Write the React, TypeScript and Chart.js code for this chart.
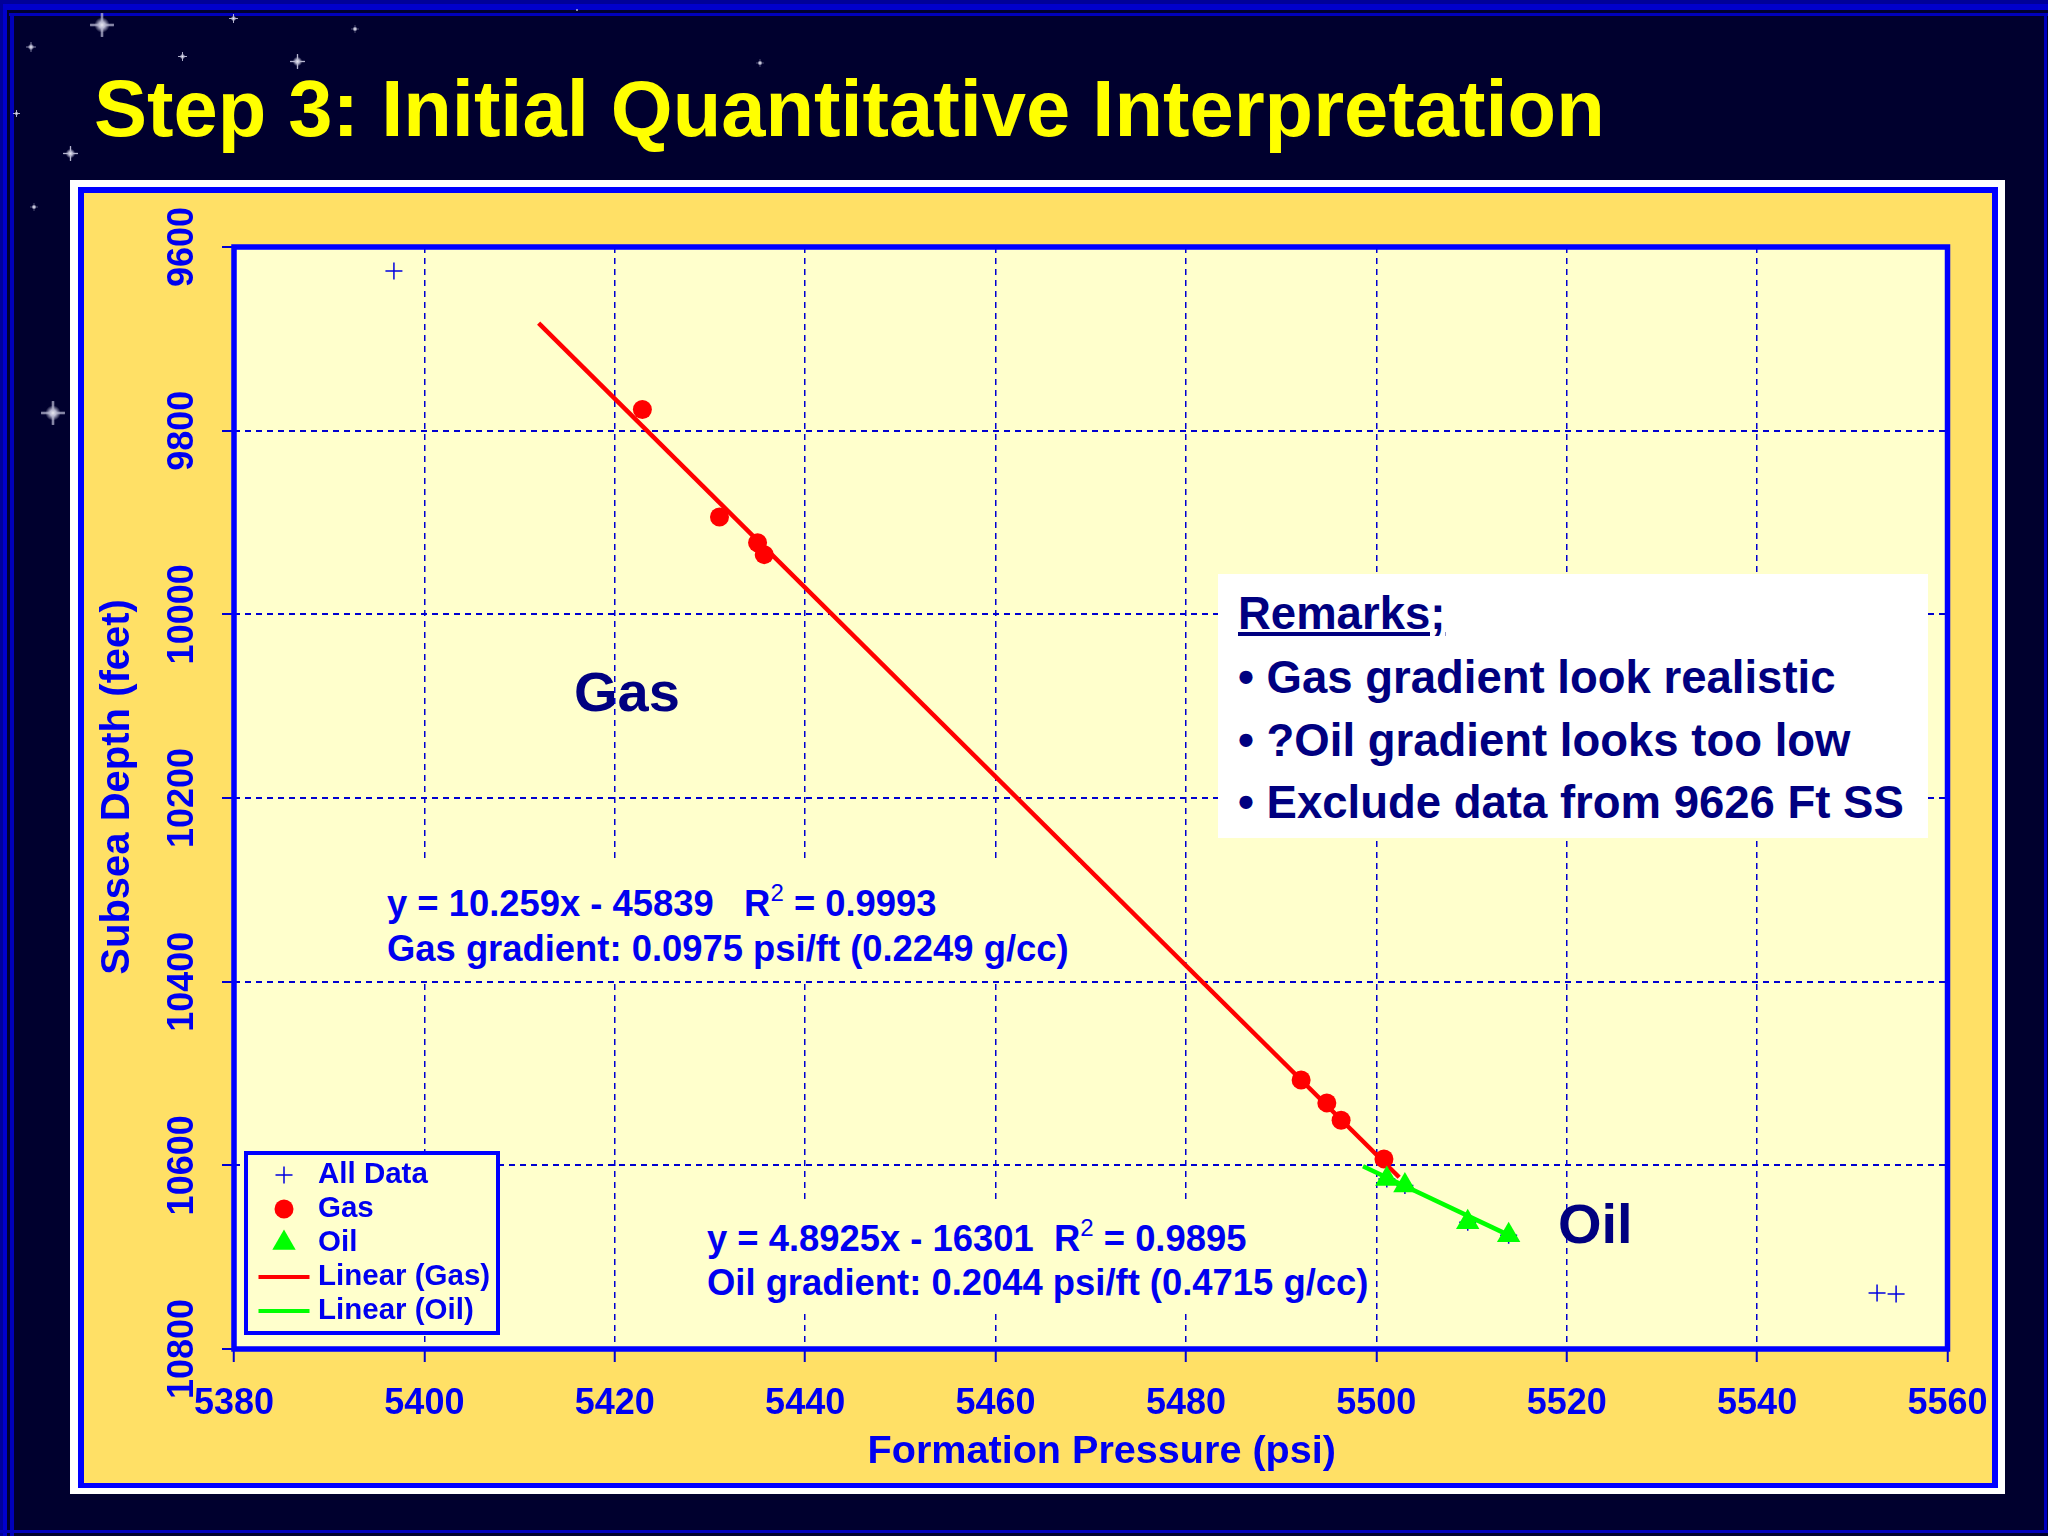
import { useEffect, useRef } from "react";
import { Chart, registerables } from "chart.js";
import { drawPoint } from "chart.js/helpers";

Chart.register(...registerables);

// values
const GAS_X = [5422.9, 5431.0, 5435.0, 5435.7, 5492.1, 5494.8, 5496.3, 5500.8];
const GAS_Y = [9777, 9894, 9922, 9935, 10507, 10532, 10551, 10593];
const OIL_X = [5501.1, 5503.0, 5509.6, 5513.9];
const OIL_Y = [10615, 10622, 10662, 10676];
const OUTLIER_X = [5396.8, 5552.6, 5554.6];
const OUTLIER_Y = [9626, 10739, 10740];
const GAS_FIT_X = [5412, 5502.4];
const GAS_FIT_Y = [9683, 10613];
const OIL_FIT_X = [5498.6, 5513.9];
const OIL_FIT_Y = [10601, 10676];

const ALL_X = [...OUTLIER_X, ...GAS_X, ...OIL_X];
const ALL_Y = [...OUTLIER_Y, ...GAS_Y, ...OIL_Y];

const BLUE = "#0000F0";
const NAVY = "#000080";
const CREAM = "#FFFFCC";
const FONT = '"Liberation Sans", Arial, sans-serif';

const points = (xs: number[], ys: number[]) => xs.map((x, i) => ({ x, y: ys[i] }));

const plotFrame = {
  id: "plotFrame",
  beforeDraw(chart: Chart) {
    const { ctx, chartArea: a } = chart;
    ctx.save();
    ctx.fillStyle = CREAM;
    ctx.fillRect(a.left, a.top, a.width, a.height);
    ctx.restore();
  },
  afterDraw(chart: Chart) {
    const { ctx, chartArea: a } = chart;
    ctx.save();
    ctx.strokeStyle = "#0000FF";
    ctx.lineWidth = 5.5;
    ctx.strokeRect(a.left, a.top, a.width, a.height);
    ctx.restore();
  }
};

// legend sits inside the plot in a bordered box, so it is drawn by hand from the datasets
const boxLegend = {
  id: "boxLegend",
  afterDraw(chart: Chart) {
    const { ctx } = chart;
    ctx.save();
    ctx.fillStyle = CREAM;
    ctx.strokeStyle = "#0000FF";
    ctx.lineWidth = 4;
    ctx.fillRect(246, 1153, 252, 180);
    ctx.strokeRect(246, 1153, 252, 180);
    ctx.font = `bold 29.5px ${FONT}`;
    ctx.textBaseline = "middle";
    chart.data.datasets.forEach((d: any, i: number) => {
      const y = 1175 + i * 34;
      ctx.fillStyle = d.pointBackgroundColor || d.borderColor;
      ctx.strokeStyle = d.pointBorderColor || d.borderColor;
      ctx.lineWidth = d.legendWidth;
      drawPoint(ctx, { pointStyle: d.legendStyle, radius: d.legendRadius, rotation: 0, borderWidth: d.legendWidth }, 284, y);
      ctx.fillStyle = BLUE;
      ctx.fillText(d.label, 318, y);
    });
    ctx.restore();
  }
};

function DepthChart() {
  const canvasRef = useRef<HTMLCanvasElement | null>(null);

  useEffect(() => {
    if (!canvasRef.current) return;
    const chart = new Chart(canvasRef.current, {
      type: "scatter",
      data: {
        datasets: [
          {
            label: "All Data",
            data: points(ALL_X, ALL_Y),
            showLine: false,
            pointStyle: "cross",
            pointRadius: 8.5,
            pointBorderColor: "#0000E0",
            pointBorderWidth: 1.5,
            order: 5,
            legendStyle: "cross",
            legendRadius: 8.5,
            legendWidth: 1.5
          },
          {
            label: "Gas",
            data: points(GAS_X, GAS_Y),
            showLine: false,
            pointStyle: "circle",
            pointRadius: 9.5,
            pointBackgroundColor: "#FF0000",
            pointBorderWidth: 0,
            order: 2,
            borderColor: "#FF0000",
            legendStyle: "circle",
            legendRadius: 9.5,
            legendWidth: 0
          },
          {
            label: "Oil",
            data: points(OIL_X, OIL_Y),
            showLine: false,
            pointStyle: "triangle",
            pointRadius: 13.5,
            pointBackgroundColor: "#00FF00",
            pointBorderWidth: 0,
            order: 1,
            borderColor: "#00FF00",
            legendStyle: "triangle",
            legendRadius: 13.5,
            legendWidth: 0
          },
          {
            label: "Linear (Gas)",
            data: points(GAS_FIT_X, GAS_FIT_Y),
            showLine: true,
            pointRadius: 0,
            borderColor: "#FF0000",
            borderWidth: 4.5,
            order: 4,
            legendStyle: "line",
            legendRadius: 25.5,
            legendWidth: 4
          },
          {
            label: "Linear (Oil)",
            data: points(OIL_FIT_X, OIL_FIT_Y),
            showLine: true,
            pointRadius: 0,
            borderColor: "#00FF00",
            borderWidth: 4.5,
            order: 3,
            legendStyle: "line",
            legendRadius: 25.5,
            legendWidth: 4
          }
        ] as any
      },
      options: {
        responsive: false,
        animation: false,
        devicePixelRatio: 1,
        layout: { padding: { left: 90, top: 247, right: 100.5, bottom: 60 } },
        plugins: { legend: { display: false }, tooltip: { enabled: false } },
        scales: {
          x: {
            type: "linear",
            min: 5380,
            max: 5560,
            afterFit: (s: any) => { s.height = 127; },
            grid: {
              color: "#0000D0",
              lineWidth: 1.5,
              tickColor: "#0000D0",
              tickWidth: 2,
              tickLength: 13,
              tickBorderDash: []
            },
            border: { display: false, dash: [6, 5] },
            ticks: {
              stepSize: 20,
              autoSkip: false,
              maxRotation: 0,
              padding: 20,
              color: BLUE,
              font: { family: FONT, size: 36, weight: "bold" },
              callback: (v: any) => String(v)
            },
            title: {
              display: true,
              // leading spaces nudge it off the axis centre, as on the slide
              text: "\u00A0\u00A0Formation Pressure (psi)",
              color: BLUE,
              padding: { top: 0, bottom: 0 },
              font: { family: FONT, size: 39.6, weight: "bold" }
            }
          },
          y: {
            type: "linear",
            reverse: true,
            min: 9600,
            max: 10800,
            afterFit: (s: any) => { s.width = 144; },
            grid: {
              color: "#0000D0",
              lineWidth: 2,
              tickColor: "#0000D0",
              tickWidth: 2,
              tickLength: 12,
              tickBorderDash: []
            },
            border: { display: false, dash: [6, 5] },
            ticks: {
              stepSize: 200,
              autoSkip: false,
              minRotation: 90,
              maxRotation: 90,
              crossAlign: "center",
              padding: -11,
              color: BLUE,
              font: { family: FONT, size: 36, weight: "bold" },
              callback: (v: any) => String(v)
            },
            title: {
              display: true,
              text: "\u00A0\u00A0Subsea Depth (feet)",
              color: BLUE,
              padding: { top: 4, bottom: 0 },
              font: { family: FONT, size: 40, weight: "bold" }
            }
          }
        }
      },
      plugins: [plotFrame, boxLegend]
    });

    return () => chart.destroy();
  }, []);

  return (
    <canvas
      ref={canvasRef}
      width={2048}
      height={1536}
      style={{ position: "absolute", left: 0, top: 0, width: 2048, height: 1536 }}
    />
  );
}

function box(x: number, y: number, w: number, h: number, background: string) {
  return { position: "absolute", left: x, top: y, width: w, height: h, background } as const;
}

// place text by its baseline, the way it was measured off the slide
function Label({ x, base, size, color, children, underline = false }: any) {
  return (
    <div
      style={{
        position: "absolute",
        left: x,
        top: base - 0.8465 * size,
        fontFamily: FONT,
        fontSize: size,
        lineHeight: 1,
        fontWeight: "bold",
        color,
        whiteSpace: "pre",
        textDecoration: underline ? "underline" : "none"
      }}
    >
      {children}
    </div>
  );
}

function Sq() {
  return <span style={{ fontSize: 24, fontWeight: "normal", position: "relative", top: -15 }}>2</span>;
}

const STARS = [
  [102, 25, 24], [233, 18, 9], [355, 29, 8], [31, 47, 10], [182, 56, 9], [297, 61, 15],
  [16, 113, 7], [70, 153, 15], [34, 207, 8], [53, 413, 24], [577, 10, 4], [760, 63, 8]
];

const STAR_BG =
  "radial-gradient(circle, #E8E8F0 0, #B8B8D0 18%, rgba(120,120,170,0) 45%)," +
  "linear-gradient(90deg, rgba(170,170,200,0) 42%, rgba(200,200,225,0.9) 50%, rgba(170,170,200,0) 58%)," +
  "linear-gradient(0deg, rgba(170,170,200,0) 42%, rgba(200,200,225,0.9) 50%, rgba(170,170,200,0) 58%)";

export default function App() {
  return (
    <div style={{ position: "fixed", left: 0, top: 0, width: 2048, height: 1536, overflow: "hidden", background: "#00002E" }}>
      <div style={box(0, 0, 2048, 4, "#000099")} />
      <div style={box(3, 4, 2045, 6, "#0000CC")} />
      <div style={box(9, 13, 2039, 3, "#0000BB")} />
      <div style={box(0, 0, 3, 1536, "#000099")} />
      <div style={box(3, 4, 4, 1532, "#0000CC")} />
      <div style={box(10, 13, 4, 1523, "#0000BB")} />
      <div style={box(2044, 14, 3, 1518, "#0000BB")} />
      <div style={box(0, 1530, 2048, 3, "#0000BB")} />

      {STARS.map(([x, y, s]) => (
        <div
          key={`${x}-${y}`}
          style={{
            ...box(x - s / 2, y - s / 2, s, s, "none"),
            background: STAR_BG,
            borderRadius: "50%"
          }}
        />
      ))}

      <Label x={94} base={136} size={79.5} color="#FFFF00">Step 3: Initial Quantitative Interpretation</Label>

      <div style={box(70, 180, 1935, 1314, "#FFFFFF")} />
      <div style={box(78, 187, 1920, 1301, "#0000FF")} />
      <div style={box(84, 193, 1908, 1290, "#FFE066")} />

      <DepthChart />

      <div style={box(380, 863, 700, 117, CREAM)} />
      <div style={box(700, 1199, 672, 115, CREAM)} />

      <Label x={574} base={711} size={56} color={NAVY}>Gas</Label>
      <Label x={1558} base={1243} size={56} color={NAVY}>Oil</Label>

      <Label x={387} base={917} size={36.4} color={BLUE}>y = 10.259x - 45839   R<Sq /> = 0.9993</Label>
      <Label x={387} base={962} size={36.4} color={BLUE}>Gas gradient: 0.0975 psi/ft (0.2249 g/cc)</Label>
      <Label x={707} base={1252} size={36.4} color={BLUE}>y = 4.8925x - 16301  R<Sq /> = 0.9895</Label>
      <Label x={707} base={1296} size={36.4} color={BLUE}>Oil gradient: 0.2044 psi/ft (0.4715 g/cc)</Label>

      <div style={box(1218, 574, 710, 264, "#FFFFFF")} />
      <Label x={1238} base={630} size={45.5} color={NAVY} underline>Remarks;</Label>
      <Label x={1238} base={694} size={45.5} color={NAVY}>• Gas gradient look realistic</Label>
      <Label x={1238} base={757} size={45.5} color={NAVY}>• ?Oil gradient looks too low</Label>
      <Label x={1238} base={819} size={45.5} color={NAVY}>• Exclude data from 9626 Ft SS</Label>
    </div>
  );
}
